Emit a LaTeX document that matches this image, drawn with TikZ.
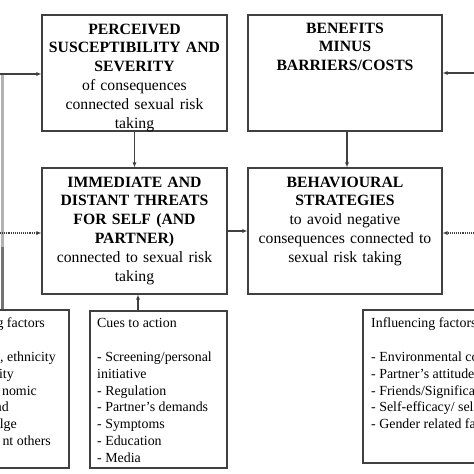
\documentclass[tikz,border=0pt]{standalone}
\usepackage{fontspec}
\setmainfont{Liberation Serif}
\usetikzlibrary{arrows.meta,calc}
\tikzset{
  box/.style={draw=black!75, line width=1.1pt, rectangle, inner sep=0pt},
  conn/.style={draw=black!75, line width=1.1pt, -{Latex[length=5pt,width=4pt]}},
  dotconn/.style={conn, densely dotted},
  bigtext/.style={anchor=base, inner sep=0pt, text width=185pt, align=center, font=\fontsize{15.7}{18.8}\selectfont},
  smalltext/.style={inner sep=0pt, font=\fontsize{13.9}{16.8}\selectfont},
}
\begin{document}
\begin{tikzpicture}[x=1pt,y=-1pt]
\useasboundingbox (0,0) rectangle (474,474);
\clip (0,0) rectangle (474,474);
\fill[white] (0,0) rectangle (474,474);
% grey vertical line at left edge
\draw[black!30, line width=3pt] (2,75) -- (2,247);
\draw[black!55, line width=3pt] (2,247) -- (2,310);
% boxes
\node[box, minimum width=185pt, minimum height=116pt] (b1) at (134.5,73) {};
\node[box, minimum width=194pt, minimum height=116pt] (b2) at (345,73) {};
\node[box, minimum width=185pt, minimum height=126pt] (b3) at (134.5,231) {};
\node[box, minimum width=194pt, minimum height=126pt] (b4) at (345,231) {};
\node[box, minimum width=137pt, minimum height=157pt] (cues) at (158.5,389.5) {};
\node[box, minimum width=89pt, minimum height=158pt] (linf) at (24.5,389) {};
\node[box, minimum width=121pt, minimum height=153pt] (rinf) at (423.5,386.5) {};
% texts
\node[bigtext] (t1) at (134.5,34) {\textbf{PERCEIVED}\\\textbf{SUSCEPTIBILITY AND}\\\textbf{SEVERITY}\\of consequences\\connected sexual risk\\taking};
\node[bigtext, text width=194pt] (t2) at (345,33) {\textbf{BENEFITS}\\\textbf{MINUS}\\\textbf{BARRIERS/COSTS}};
\node[bigtext] (t3) at (134.5,187) {\textbf{IMMEDIATE AND}\\\textbf{DISTANT THREATS}\\\textbf{FOR SELF (AND}\\\textbf{PARTNER)}\\connected to sexual risk\\taking};
\node[bigtext, text width=194pt] (t4) at (345,187) {\textbf{BEHAVIOURAL}\\\textbf{STRATEGIES}\\to avoid negative\\consequences connected to\\sexual risk taking};
% cues text
\node[smalltext, anchor=base west] (c0) at (97,327) {Cues to action};
\node[smalltext, anchor=base west] (c1) at (97,361) {- Screening/personal};
\node[smalltext, anchor=base west] (c2) at (97,378) {initiative};
\node[smalltext, anchor=base west] (c3) at (97,395) {- Regulation};
\node[smalltext, anchor=base west] (c4) at (97,411.5) {- Partner’s demands};
\node[smalltext, anchor=base west] (c5) at (97,428.5) {- Symptoms};
\node[smalltext, anchor=base west] (c6) at (97,445) {- Education};
\node[smalltext, anchor=base west] (c7) at (97,462) {- Media};
% left influencing fragments
\node[smalltext, anchor=base east] (l0) at (45,327) {g factors};
\node[smalltext, anchor=base east] (l1) at (56,361) {, ethnicity};
\node[smalltext, anchor=base east] (l2) at (14,378) {ity};
\node[smalltext, anchor=base east] (l3) at (37,395) {nomic};
\node[smalltext, anchor=base east] (l4) at (9,411.5) {nd};
\node[smalltext, anchor=base east] (l5) at (17,428.5) {lge};
\node[smalltext, anchor=base east] (l6) at (51,445) {nt others};
% right influencing fragments
\node[smalltext, anchor=base west] (r0) at (371,327) {Influencing factors};
\node[smalltext, anchor=base west] (r1) at (371,361) {- Environmental co};
\node[smalltext, anchor=base west] (r2) at (371,378) {- Partner’s attitude};
\node[smalltext, anchor=base west] (r3) at (371,395) {- Friends/Significa};
\node[smalltext, anchor=base west] (r4) at (371,411.5) {- Self-efficacy/ sel};
\node[smalltext, anchor=base west] (r5) at (371,428.5) {- Gender related fa};
% connectors
\coordinate (inL1) at (0,74);
\coordinate (inR1) at (474,73);
\coordinate (inL2) at (0,233);
\coordinate (inR2) at (474,233);
\draw[conn] (b1.south) -- (b3.north);
\draw[conn] ([xshift=2pt]b2.south) -- ([xshift=2pt]b4.north);
\draw[conn] (b3.east) -- (b4.west);
\draw[conn] ([xshift=-20.5pt]cues.north) -- ([xshift=-20.5pt]cues.north |- b3.south);
\draw[conn] (inL1) -- (inL1 -| b1.west);
\draw[conn] (inR1) -- (inR1 -| b2.east);
\draw[dotconn] (inL2) -- (inL2 -| b3.west);
\draw[dotconn] (inR2) -- (inR2 -| b4.east);
\end{tikzpicture}
\end{document}
